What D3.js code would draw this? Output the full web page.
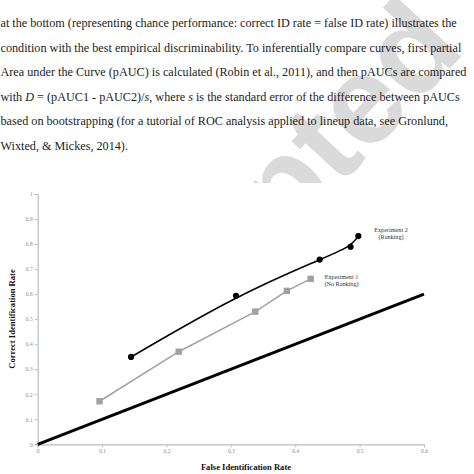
<!DOCTYPE html>
<html>
<head>
<meta charset="utf-8">
<script src="https://cdn.jsdelivr.net/npm/d3@7"></script>
<style>
html,body{margin:0;padding:0;background:#fff;}
svg{display:block;}
.serif{font-family:"Liberation Serif","Times New Roman",Times,serif;}
.sans{font-family:"Liberation Sans",Arial,sans-serif;}
</style>
</head>
<body>
<svg id="c" width="474" height="474"></svg>
<script>
// ---- data ----
const paragraphLines = [
  [["at the bottom (representing chance performance: correct ID rate = false ID rate) illustrates the", false]],
  [["condition with the best empirical discriminability. To inferentially compare curves, first partial", false]],
  [["Area under the Curve (pAUC) is calculated (Robin et al., 2011), and then pAUCs are compared", false]],
  [["with ", false], ["D", true], [" = (pAUC1 - pAUC2)/", false], ["s", true], [", where ", false], ["s", true], [" is the standard error of the difference between pAUCs", false]],
  [["based on bootstrapping (for a tutorial of ROC analysis applied to lineup data, see Gronlund,", false]],
  [["Wixted, & Mickes, 2014).", false]]
];
const watermarkText = "Accepted";

const xTicks = [0, 0.1, 0.2, 0.3, 0.4, 0.5, 0.6];
const yTicks = [0, 0.1, 0.2, 0.3, 0.4, 0.5, 0.6, 0.7, 0.8, 0.9, 1];

const exp1FalseID   = [0.096, 0.219, 0.338, 0.387, 0.424];
const exp1CorrectID = [0.172, 0.370, 0.530, 0.613, 0.661];
const exp2FalseID   = [0.145, 0.308, 0.438, 0.486, 0.498];
const exp2CorrectID = [0.349, 0.593, 0.738, 0.789, 0.832];
const chanceLine    = [0, 0.6];

const exp1Label = ["Experiment 1", "(No Ranking)"];
const exp2Label = ["Experiment 2", "(Ranking)"];
const xTitle = "False Identification Rate";
const yTitle = "Correct Identification Rate";

// ---- drawing ----
const svg = d3.select("#c");

// watermark (behind text, only in text region)
svg.append("defs").append("clipPath").attr("id", "wmclip")
  .append("rect").attr("x", 0).attr("y", 0).attr("width", 474).attr("height", 183);
svg.append("g").attr("clip-path", "url(#wmclip)")
  .append("text").attr("class", "sans")
  .attr("transform", "translate(83,462) rotate(-47)")
  .attr("font-weight", "bold")
  .attr("font-size", 125)
  .attr("fill", "#dadada")
  .text(watermarkText);

// paragraph
const para = svg.append("g").attr("class", "serif").attr("fill", "#1c1c1c");
const baseY = 27, lineH = 24.6;
const textEls = paragraphLines.map((segs, i) => {
  const t = para.append("text").attr("class", "serif").attr("x", 0.5).attr("y", baseY + i * lineH).attr("font-size", 12);
  segs.forEach(([s, it]) => {
    const ts = t.append("tspan").text(s);
    if (it) ts.attr("font-style", "italic");
  });
  return t;
});
const w = textEls[1].node().getComputedTextLength();
const fs = 12 * 461 / w;
textEls.forEach(t => t.attr("font-size", fs));

// chart
const x = d3.scaleLinear().domain([0, 0.6]).range([37.7, 424]);
const y = d3.scaleLinear().domain([0, 1]).range([444.3, 194]);

const axisColor = "#bdbdbd";

const gy = svg.append("g").attr("transform", `translate(${x(0)},0)`)
  .call(d3.axisLeft(y).tickValues(yTicks).tickSize(3).tickPadding(2).tickFormat(d3.format("")));
const gx = svg.append("g").attr("transform", `translate(0,${y(0)})`)
  .call(d3.axisBottom(x).tickValues(xTicks).tickSize(3).tickPadding(2).tickFormat(d3.format("")));
[gx, gy].forEach(g => {
  g.attr("font-family", null);
  g.select(".domain").attr("stroke", axisColor).attr("stroke-width", 1.2);
  g.selectAll(".tick line").attr("stroke", axisColor);
  g.selectAll(".tick text").attr("class", "serif").attr("fill", "#8a8a8a").attr("font-size", 5.5);
});

// chance diagonal
svg.append("line")
  .attr("x1", x(chanceLine[0])).attr("y1", y(chanceLine[0]))
  .attr("x2", x(chanceLine[1])).attr("y2", y(chanceLine[1]))
  .attr("stroke", "#000").attr("stroke-width", 3);

// experiment 1 (gray, squares)
const exp1 = exp1FalseID.map((d, i) => [d, exp1CorrectID[i]]);
svg.append("path").datum(exp1)
  .attr("d", d3.line().x(d => x(d[0])).y(d => y(d[1])))
  .attr("fill", "none").attr("stroke", "#a3a3a3").attr("stroke-width", 1.6);
svg.selectAll("rect.e1").data(exp1).join("rect").attr("class", "e1")
  .attr("x", d => x(d[0]) - 3.2).attr("y", d => y(d[1]) - 3.2)
  .attr("width", 6.4).attr("height", 6.4).attr("fill", "#a0a0a0");

// experiment 2 (black, circles, smooth fitted curve)
const exp2 = exp2FalseID.map((d, i) => [d, exp2CorrectID[i]]);
svg.append("path").datum(exp2)
  .attr("d", d3.line().x(d => x(d[0])).y(d => y(d[1])).curve(d3.curveBasis))
  .attr("fill", "none").attr("stroke", "#000").attr("stroke-width", 1.6);
svg.selectAll("circle.e2").data(exp2).join("circle").attr("class", "e2")
  .attr("cx", d => x(d[0])).attr("cy", d => y(d[1])).attr("r", 3.1).attr("fill", "#000");

// series labels
const lab = svg.append("g").attr("font-size", 6.2).attr("fill", "#333").attr("text-anchor", "middle");
exp2Label.forEach((s, i) => lab.append("text").attr("class", "serif").attr("x", 391).attr("y", 232 + i * 7.4).text(s));
exp1Label.forEach((s, i) => lab.append("text").attr("class", "serif").attr("x", 341.5).attr("y", 278.8 + i * 7.4).text(s));

// axis titles
svg.append("text").attr("class", "serif").attr("x", 246).attr("y", 470).attr("text-anchor", "middle")
  .attr("font-weight", "bold").attr("font-size", 8.6).attr("fill", "#111").text(xTitle);
svg.append("text").attr("class", "serif").attr("transform", "translate(15,319) rotate(-90)").attr("text-anchor", "middle")
  .attr("font-weight", "bold").attr("font-size", 8.6).attr("fill", "#111").text(yTitle);
</script>
</body>
</html>
